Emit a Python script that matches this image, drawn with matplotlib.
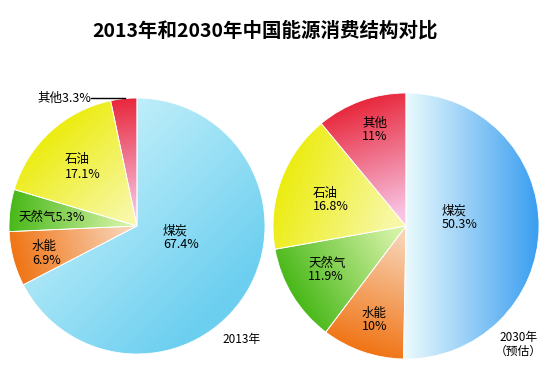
import numpy as np
import matplotlib.pyplot as plt
from matplotlib.colors import to_rgb

plt.rcParams['font.family'] = ['Noto Sans CJK SC', 'DejaVu Sans']

# Data
labels = ['煤炭', '水能', '天然气', '石油', '其他']
share_2013 = [67.4, 6.9, 5.3, 17.1, 3.3]
share_2030 = [50.3, 10, 11.9, 16.8, 11]
title = '2013年和2030年中国能源消费结构对比'

# outer (saturated) and inner (light) colours per slice
outer = ['#6ccff0', '#f07414', '#48b818', '#ecec10', '#e8283c']
inner = ['#c4f0fa', '#f8d2b4', '#d4f2a4', '#f8f8a8', '#f8c4e4']
coal_2030 = ('#eafafd', '#3a9ef0')

W, H = 550, 370


def Y(y):
    # image row -> data y
    return H - y


fig = plt.figure(figsize=(5.5, 3.7), dpi=100)
ax = fig.add_axes([0, 0, 1, 1])


def shade(wedge, cx, cy, r, c0, c1, direction, span=(0, 1)):
    # fill a wedge with a linear gradient along `direction`
    n = 200
    xs = np.linspace(cx - r, cx + r, n)
    ys = np.linspace(cy - r, cy + r, n)
    gx, gy = np.meshgrid(xs, ys)
    dx, dy = direction
    t = ((gx - cx) * dx + (gy - cy) * dy) / r
    t = np.clip((t - span[0]) / (span[1] - span[0]), 0, 1)[..., None]
    a, b = np.array(to_rgb(c0)), np.array(to_rgb(c1))
    img = a * (1 - t) + b * t
    im = ax.imshow(img, extent=(cx - r, cx + r, cy - r, cy + r),
                   origin='lower', interpolation='bilinear', zorder=0)
    im.set_clip_path(wedge)


def draw_pie(values, cx, cy, r, year):
    wedges, _ = ax.pie(values, startangle=90, counterclock=False,
                       center=(cx, cy), radius=r,
                       wedgeprops=dict(edgecolor='white', linewidth=0.6))
    for i, w in enumerate(wedges):
        w.set_facecolor('none')
        w.set_zorder(1)
        if i == 0:
            if year == 2013:
                d = np.array([1, -1]) / np.sqrt(2)
                shade(w, cx, cy, r, inner[0], outer[0], d, span=(-0.8, 0.9))
            else:
                shade(w, cx, cy, r, coal_2030[0], coal_2030[1], (1, 0))
        else:
            mid = np.deg2rad((w.theta1 + w.theta2) / 2)
            d = (np.cos(mid), np.sin(mid))
            shade(w, cx, cy, r, inner[i], outer[i], d, span=(0.1, 1.0))


draw_pie(share_2013, 137, Y(226), 128, 2013)
draw_pie(share_2030, 406, Y(226), 133, 2030)

ax.set_xlim(0, W)
ax.set_ylim(0, H)
ax.axis('off')

fs = 9
pct = lambda v: f'{v:g}%'

# 2013 labels
ax.text(163, Y(231), labels[0], fontsize=fs, va='center')
ax.text(163, Y(245), pct(share_2013[0]), fontsize=fs, va='center')
ax.text(32, Y(246), labels[1], fontsize=fs, va='center')
ax.text(32, Y(260), pct(share_2013[1]), fontsize=fs, va='center')
ax.text(18, Y(217), labels[2] + pct(share_2013[2]), fontsize=fs, va='center')
ax.text(65, Y(160), labels[3], fontsize=fs, va='center')
ax.text(65, Y(175), pct(share_2013[3]), fontsize=fs, va='center')
ax.text(37, Y(98), labels[4] + pct(share_2013[4]), fontsize=fs, va='center')
ax.plot([91, 125], [Y(98), Y(98)], color='black', lw=1)
ax.text(222, Y(339), '2013年', fontsize=8.5, va='center')

# 2030 labels
ax.text(442, Y(211), labels[0], fontsize=fs, va='center')
ax.text(442, Y(225), pct(share_2030[0]), fontsize=fs, va='center')
ax.text(362, Y(313), labels[1], fontsize=fs, va='center')
ax.text(362, Y(327), pct(share_2030[1]), fontsize=fs, va='center')
ax.text(308, Y(263), labels[2], fontsize=fs, va='center')
ax.text(308, Y(277), pct(share_2030[2]), fontsize=fs, va='center')
ax.text(313, Y(193), labels[3], fontsize=fs, va='center')
ax.text(313, Y(207), pct(share_2030[3]), fontsize=fs, va='center')
ax.text(362, Y(123), labels[4], fontsize=fs, va='center')
ax.text(362, Y(137), pct(share_2030[4]), fontsize=fs, va='center')
ax.text(499, Y(337), '2030年', fontsize=8.5, va='center')
ax.text(495, Y(351), '（预估）', fontsize=8.5, va='center')

ax.text(265, Y(31), title, fontsize=14, fontweight='bold',
        ha='center', va='center')

fig.savefig('out.png', dpi=100)
